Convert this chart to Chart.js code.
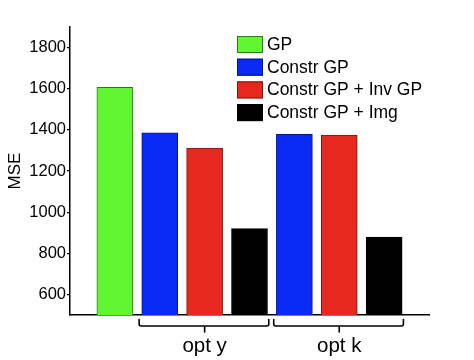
<!DOCTYPE html>
<html>
<head>
<meta charset="utf-8">
<script src="https://cdn.jsdelivr.net/npm/chart.js@4/dist/chart.umd.min.js"></script>
<style>
  html, body { margin: 0; padding: 0; background: #ffffff; }
  #wrap { width: 474px; height: 360px; }
</style>
</head>
<body>
<div id="wrap"><canvas id="c" width="474" height="360"></canvas></div>
<script>
// ---- data ----
const seriesLabels = ['GP', 'Constr GP', 'Constr GP + Inv GP', 'Constr GP + Img'];
const groupLabels = ['opt y', 'opt k'];
const gpValues = [1607];
const constrValues = [1386, 1378];
const invValues = [1312, 1375];
const imgValues = [920, 879];
const yTickValues = [600, 800, 1000, 1200, 1400, 1600, 1800];

const FONT = '"Liberation Sans", Arial, Helvetica, sans-serif';
const NARROW = '"Liberation Sans Narrow", "Liberation Sans", Arial, sans-serif';
const fills = ['#62f532', '#0a2af5', '#e6281e', '#000000'];
const borders = ['#2f7a18', '#00138a', '#7d1510', '#000000'];

// slot layout: GP at slot 1, then each group occupies three consecutive slots
const groupStart = g => 2 + 3 * g;
const groupCenter = g => groupStart(g) + 1;

function groupSeries(values, s) {
  return values.map((v, g) => ({ x: groupStart(g) + s, y: v }));
}

const datasets = [
  { label: seriesLabels[0], data: gpValues.map(v => ({ x: 1, y: v })) },
  { label: seriesLabels[1], data: groupSeries(constrValues, 0) },
  { label: seriesLabels[2], data: groupSeries(invValues, 1) },
  { label: seriesLabels[3], data: groupSeries(imgValues, 2) }
].map((d, i) => Object.assign(d, {
  backgroundColor: fills[i],
  borderColor: borders[i],
  borderWidth: 1,
  borderSkipped: 'start',
  barThickness: 36,
  grouped: false
}));

const bracePlugin = {
  id: 'braces',
  afterDraw(chart) {
    const ctx = chart.ctx;
    const xs = chart.scales.x;
    const base = chart.chartArea.bottom;
    ctx.save();
    ctx.strokeStyle = '#000';
    ctx.lineWidth = 1.6;
    ctx.lineCap = 'round';
    groupLabels.forEach((lbl, g) => {
      const c = groupCenter(g);
      const x1 = xs.getPixelForValue(c - 1.46);
      const x2 = xs.getPixelForValue(c + 1.43);
      const xm = xs.getPixelForValue(c);
      const yTop = base + 4.5;
      const yLine = base + 11;
      const yTip = base + 17;
      ctx.beginPath();
      ctx.moveTo(x1, yTop);
      ctx.lineTo(x1, yLine - 2);
      ctx.quadraticCurveTo(x1, yLine, x1 + 2, yLine);
      ctx.lineTo(x2 - 2, yLine);
      ctx.quadraticCurveTo(x2, yLine, x2, yLine - 2);
      ctx.lineTo(x2, yTop);
      ctx.moveTo(xm, yLine);
      ctx.lineTo(xm, yTip);
      ctx.stroke();
    });
    ctx.restore();
  }
};

const legendPlugin = {
  id: 'boxLegend',
  afterDraw(chart) {
    const ctx = chart.ctx;
    const x0 = 237, y0 = 36, bw = 26, bh = 17, step = 22.7;
    ctx.save();
    ctx.font = '17.5px ' + FONT;
    ctx.textBaseline = 'middle';
    ctx.textAlign = 'left';
    chart.data.datasets.forEach((ds, i) => {
      const y = y0 + i * step;
      ctx.fillStyle = ds.backgroundColor;
      ctx.fillRect(x0, y, bw, bh);
      ctx.strokeStyle = ds.borderColor;
      ctx.lineWidth = 1;
      ctx.strokeRect(x0 + 0.5, y + 0.5, bw - 1, bh - 1);
      ctx.fillStyle = '#000';
      ctx.fillText(ds.label, x0 + bw + 4, y + bh / 2 + 0.5);
    });
    ctx.restore();
  }
};

new Chart(document.getElementById('c'), {
  type: 'bar',
  data: { datasets },
  options: {
    responsive: false,
    animation: false,
    devicePixelRatio: 1,
    layout: { padding: { top: 27, right: 45, left: 0, bottom: 0 } },
    plugins: {
      legend: { display: false },
      tooltip: { enabled: false }
    },
    scales: {
      x: {
        type: 'linear',
        min: 0,
        max: 8,
        offset: false,
        grid: { display: false, drawTicks: false },
        border: { display: true, color: '#000', width: 1.5 },
        afterBuildTicks: s => { s.ticks = groupLabels.map((l, g) => ({ value: groupCenter(g) })); },
        afterFit: s => { s.height = 45; },
        ticks: {
          autoSkip: false,
          maxRotation: 0,
          padding: 19,
          color: '#000',
          font: { family: FONT, size: 20.5 },
          callback: (v, i) => groupLabels[i]
        }
      },
      y: {
        min: 500,
        max: 1900,
        grid: { display: true, drawOnChartArea: false, drawTicks: true, tickLength: 3, color: '#000', lineWidth: 1.2 },
        border: { display: true, color: '#000', width: 1.5 },
        afterBuildTicks: s => { s.ticks = yTickValues.map(v => ({ value: v })); },
        afterFit: s => { s.width = 70; },
        ticks: {
          padding: 1,
          color: '#000',
          font: { family: FONT, size: 16.5 },
          callback: v => String(v)
        },
        title: {
          display: true,
          text: 'MSE',
          color: '#000',
          font: { family: NARROW, size: 17 },
          padding: { top: 5, bottom: 0 }
        }
      }
    }
  },
  plugins: [bracePlugin, legendPlugin]
});
</script>
</body>
</html>
